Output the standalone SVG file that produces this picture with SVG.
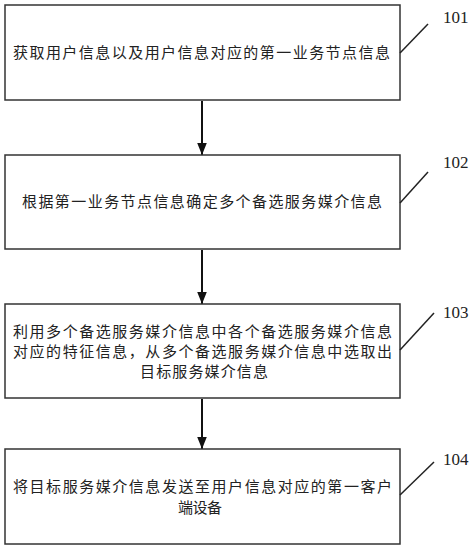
<svg xmlns="http://www.w3.org/2000/svg" width="474" height="550" viewBox="0 0 474 550">
<defs>
<style>
.box{fill:#fff;stroke:#333;stroke-width:1.5}
.t{font-family:"Liberation Serif","Noto Sans CJK SC",serif;font-size:15px;fill:#222}
.n{font-family:"Liberation Serif",serif;font-size:17px;fill:#222}
.lead{stroke:#222;stroke-width:1.5;fill:none}
.arr{stroke:#111;stroke-width:2;fill:none;marker-end:url(#ah)}
</style>
<marker id="ah" markerWidth="12" markerHeight="15" refX="15" refY="6" orient="auto" markerUnits="userSpaceOnUse" viewBox="0 0 15 12">
<path d="M0,0 L15,6 L0,12 Z" fill="#111"/>
</marker>
</defs>
<rect width="474" height="550" fill="#fff"/>
<g id="connectors">
<line class="arr" x1="202" y1="101" x2="202" y2="155"/>
<line class="arr" x1="202" y1="250" x2="202" y2="304"/>
<line class="arr" x1="202" y1="399" x2="202" y2="449"/>
</g>
<g id="n101">
<rect class="box" x="5" y="5" width="395" height="95"/>
<text class="t" x="13" y="58" textLength="377" lengthAdjust="spacing">获取用户信息以及用户信息对应的第一业务节点信息</text>
<line class="lead" x1="400" y1="53" x2="428" y2="24"/>
<text class="n" x="443" y="23">101</text>
</g>
<g id="n102">
<rect class="box" x="5" y="155" width="395" height="94"/>
<text class="t" x="22" y="207" textLength="360" lengthAdjust="spacing">根据第一业务节点信息确定多个备选服务媒介信息</text>
<line class="lead" x1="400" y1="203" x2="428" y2="172"/>
<text class="n" x="443" y="168">102</text>
</g>
<g id="n103">
<rect class="box" x="5" y="304" width="395" height="94"/>
<text class="t" x="13" y="337" textLength="379" lengthAdjust="spacing">利用多个备选服务媒介信息中各个备选服务媒介信息</text>
<text class="t" x="13" y="357" textLength="379" lengthAdjust="spacing">对应的特征信息，从多个备选服务媒介信息中选取出</text>
<text class="t" x="140" y="377" textLength="128" lengthAdjust="spacing">目标服务媒介信息</text>
<line class="lead" x1="400" y1="350" x2="434" y2="313"/>
<text class="n" x="443" y="318">103</text>
</g>
<g id="n104">
<rect class="box" x="5" y="449" width="395" height="95"/>
<text class="t" x="13" y="492" textLength="379" lengthAdjust="spacing">将目标服务媒介信息发送至用户信息对应的第一客户</text>
<text class="t" x="178" y="513" textLength="44" lengthAdjust="spacing">端设备</text>
<line class="lead" x1="400" y1="495" x2="434" y2="462"/>
<text class="n" x="443" y="465">104</text>
</g>
</svg>
